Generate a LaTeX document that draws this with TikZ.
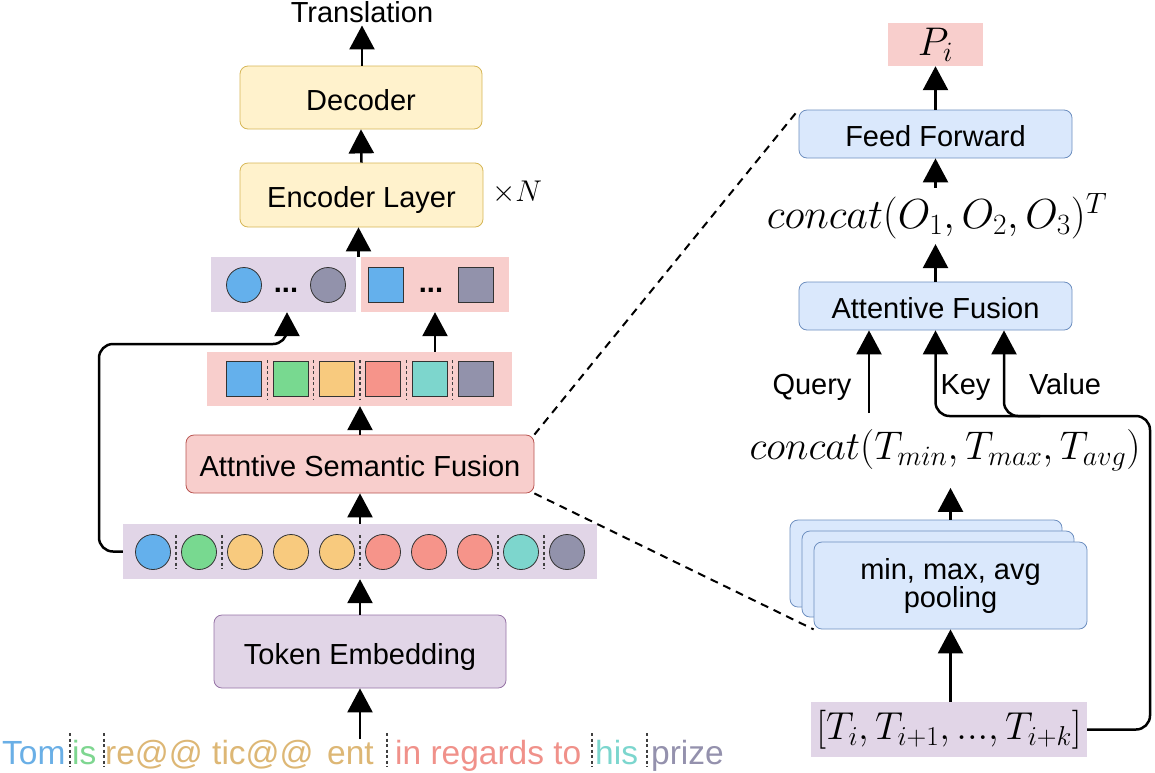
\RequirePackage{fix-cm}
\documentclass[tikz,border=0pt]{standalone}
\usepackage[no-math]{fontspec}
\setmainfont{Liberation Sans}
\usetikzlibrary{arrows.meta}
\definecolor{yelF}{HTML}{FFF2CC}
\definecolor{yelD}{HTML}{D6B656}
\definecolor{pinkF}{HTML}{F8CECC}
\definecolor{pinkD}{HTML}{B85450}
\definecolor{purF}{HTML}{E1D5E7}
\definecolor{purD}{HTML}{9673A6}
\definecolor{bluF}{HTML}{DAE8FC}
\definecolor{bluD}{HTML}{6C8EBF}
\definecolor{cB}{HTML}{64B0EC}
\definecolor{cG}{HTML}{78D990}
\definecolor{cY}{HTML}{F8CA7E}
\definecolor{cR}{HTML}{F6948A}
\definecolor{cT}{HTML}{7DD6CD}
\definecolor{cP}{HTML}{9292AB}
\definecolor{tB}{HTML}{6AAFE6}
\definecolor{tG}{HTML}{7ED690}
\definecolor{tY}{HTML}{DDB775}
\definecolor{tR}{HTML}{F0918A}
\definecolor{tT}{HTML}{7CD6CE}
\definecolor{tP}{HTML}{9491AD}
\begin{document}
\begin{tikzpicture}[x=1pt,y=-1pt,
  txt/.style={inner sep=0pt,font=\fontsize{29}{33}\selectfont},
  word/.style={inner sep=0pt,anchor=base west,font=\fontsize{33.5}{38}\selectfont},
  mtxt/.style={inner sep=5pt,font=\fontsize{40}{46}\selectfont},
  basebox/.style={rectangle,rounded corners=8pt,line width=0.8pt,inner sep=0pt,font=\fontsize{29}{33}\selectfont},
  oneline/.style={text height=27pt,text depth=2pt},
  yelbox/.style={basebox,fill=yelF,draw=yelD},
  pinkbox/.style={basebox,fill=pinkF,draw=pinkD},
  purbox/.style={basebox,fill=purF,draw=purD},
  blubox/.style={basebox,fill=bluF,draw=bluD},
  pinkbg/.style={rectangle,fill=pinkF,inner sep=0pt},
  purbg/.style={rectangle,fill=purF,inner sep=0pt},
  ball/.style={circle,draw=black!80,line width=0.8pt,minimum size=35pt,inner sep=0pt},
  cube/.style={rectangle,draw=black!80,line width=0.8pt,minimum size=35pt,inner sep=0pt},
  arr/.style={line width=2.5pt,-{Triangle[width=25pt,length=24pt]}},
  sepline/.style={line width=1.2pt,draw=black!75,dash pattern=on 3pt off 2.5pt},
  dashline/.style={line width=2pt,dash pattern=on 8pt off 6pt}
]
\useasboundingbox (0,0) rectangle (1155,772);

% ---------------- left column ----------------
\node[txt,anchor=base,inner sep=3pt] (trans) at (362,22) {Translation};
\node[yelbox,oneline,minimum width=242pt,minimum height=63pt] (dec) at (361,97.5) {Decoder};
\node[yelbox,oneline,minimum width=243pt,minimum height=64pt] (enc) at (361.5,195) {Encoder Layer};
\node[inner sep=0pt,font=\fontsize{30}{34}\selectfont] (xn) at (517,192) {$\times N$};

\draw[arr] (dec.north -| trans.south) -- (trans.south);
\draw[arr] (enc.north) -- (dec.south);

% top row: circles and squares
\node[purbg,minimum width=145pt,minimum height=55pt] (ctop) at (283.5,284.5) {};
\node[pinkbg,minimum width=148pt,minimum height=55pt] (stop) at (435,284.5) {};
\node[ball,fill=cB] (ct1) at (244,285) {};
\node[ball,fill=cP] (ct2) at (328,285) {};
\node[txt,anchor=base] (ctd) at (286,292) {\textbf{...}};
\node[cube,fill=cB] (st1) at (386,285) {};
\node[cube,fill=cP] (st2) at (476,285) {};
\node[txt,anchor=base] (std) at (431,292) {\textbf{...}};
\coordinate (gap) at (358.5,257);
\draw[arr] (gap) -- (gap |- enc.south);

% square row
\node[pinkbg,minimum width=305pt,minimum height=54pt] (srow) at (359.5,379) {};
\foreach \c [count=\i from 0] in {cB,cG,cY,cR,cT,cP}
  \node[cube,fill=\c] (s\i) at ({244+46.4*\i},379) {};
\foreach \x in {267.2,313.6,360.0,406.4,452.8}
  \draw[sepline] (\x,360) -- (\x,399);
\draw[arr] (srow.north -| stop.south) -- (stop.south);

% attentive semantic fusion
\node[pinkbox,oneline,minimum width=348pt,minimum height=58pt] (asf) at (360,464) {Attntive Semantic Fusion};
\draw[arr] (asf.north) -- (asf.north |- srow.south);

% circle row
\node[purbg,minimum width=474pt,minimum height=55pt] (crow) at (360,551.5) {};
\foreach \c [count=\i from 0] in {cB,cG,cY,cY,cY,cR,cR,cR,cT,cP}
  \node[ball,fill=\c] (b\i) at ({153+46*\i},552) {};
\foreach \x in {176,222,360,498,544}
  \draw[sepline] (\x,535) -- (\x,569);
\draw[arr] (crow.north) -- (asf.south);

\coordinate (lp) at (99,344);
\draw[arr,rounded corners=14pt] (crow.west) -| (lp) -| ([xshift=3.5pt]ctop.south);

% token embedding
\node[purbox,oneline,minimum width=292pt,minimum height=73pt] (tok) at (360,651.5) {Token Embedding};
\draw[arr] (tok.north) -- (crow.south);

% source words
\node[word,text=tB] (w1) at (2,764) {Tom};
\node[word,text=tG] (w2) at (72,764) {is};
\node[word,text=tY] (w3) at (105,764) {re@@};
\node[word,text=tY] (w3b) at (212,764) {tic@@};
\node[word,text=tY] (w3c) at (327,764) {ent};
\node[word,text=tR] (w4) at (395,764) {in regards to};
\node[word,text=tT] (w5) at (595,764) {his};
\node[word,text=tP] (w6) at (651,764) {prize};
\foreach \x in {70,104,387,592,647}
  \draw[sepline] (\x,733) -- (\x,767);
\coordinate (src) at ([yshift=3pt]w3c.north -| tok.south);
\draw[arr] (src) -- (tok.south);

% ---------------- right panel ----------------
\node[pinkbg,minimum width=95pt,minimum height=43pt,font=\fontsize{40}{44}\selectfont] (pi) at (935.5,44.5) {$P_i$};
\node[blubox,oneline,minimum width=273pt,minimum height=48pt] (ff) at (935.5,134) {Feed Forward};
\node[mtxt,font=\fontsize{42}{48}\selectfont] (cat1) at (937,216) {$concat(O_1,O_2,O_3)^T$};
\node[blubox,oneline,minimum width=273pt,minimum height=48pt] (af) at (935.5,306) {Attentive Fusion};
\node[mtxt] (cat2) at (945,450) {$concat(T_{min},T_{max},T_{avg})$};

\node[blubox,minimum width=272pt,minimum height=87pt] (pb) at (926,563.5) {};
\node[blubox,minimum width=272pt,minimum height=86pt] (pm) at (938,574) {};
\node[blubox,minimum width=273pt,minimum height=87pt,align=center,font=\fontsize{29}{28}\selectfont] (pf) at (950.5,585.5) {min, max, avg\\pooling};

\node[purbg,minimum width=276pt,minimum height=55pt,font=\fontsize{39}{44}\selectfont] (tseq) at (949,729.5) {$[T_i,T_{i+1},...,T_{i+k}]$};

\draw[arr] (ff.north) -- (pi.south);
\draw[arr] (cat1.north -| ff.south) -- (ff.south);
\draw[arr] (af.north) -- (af.north |- cat1.south);

\coordinate (qs) at ([yshift=11pt]cat2.north);
\coordinate (qe) at ([xshift=-66.5pt]af.south);
\draw[arr] (qs -| qe) -- (qe);
\node[txt,anchor=base] (lq) at (812,394) {Query};
\node[txt,anchor=base] (lk) at (965.5,394) {Key};
\node[txt,anchor=base] (lv) at (1065,394) {Value};

\coordinate (rp) at (1150,416);
\coordinate (vs) at (1040,416);
\draw[arr,rounded corners=14pt] (tseq.east) -| (rp) -| (af.south);
\draw[arr,rounded corners=14pt] (vs) -| ([xshift=68.5pt]af.south);

\coordinate (ps) at ([yshift=-12pt]cat2.south);
\draw[arr] (pb.north -| pf.north) -- (ps -| pf.north);
\draw[arr] (tseq.north -| pf.south) -- (pf.south);

% zoom lines
\draw[dashline] (asf.north east) -- (ff.north west);
\draw[dashline] (asf.south east) -- (pf.south west);
\end{tikzpicture}
\end{document}
